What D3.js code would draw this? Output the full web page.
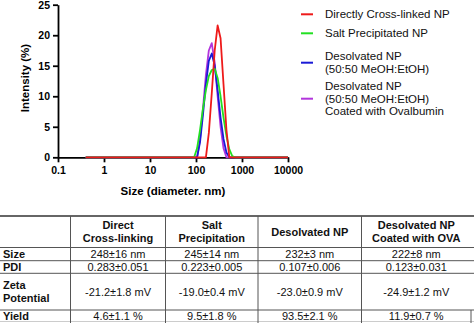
<!DOCTYPE html>
<html>
<head>
<meta charset="utf-8">
<script src="https://cdn.jsdelivr.net/npm/d3@7"></script>
<style>
  body { margin: 0; background: #fff; }
  svg { display: block; font-family: "Liberation Sans", Arial, sans-serif; }
  .axis text { font-weight: bold; font-size: 10.5px; fill: #000; }
  .axis path, .axis line { stroke: #000; stroke-width: 1.8px; }
</style>
</head>
<body>
<svg id="chart" width="474" height="323"></svg>
<script>
// size bins (nm) of the DLS distribution, zero outside the peak region
const sizes = [0.4, 91.28, 105.7, 122.4, 141.8, 164.2, 190.1, 220.2, 255.0, 295.3, 342.0, 396.1, 458.7, 531.2, 615.1, 712.4, 10000];
const crossLinked = [0, 0, 0, 0, 0, 0, 4.0, 10.5, 17.5, 21.6, 19.5, 12.0, 4.5, 0, 0, 0, 0];
const saltPrecip = [0, 0, 1.5, 4.5, 8.0, 11.0, 13.3, 14.3, 14.5, 13.0, 10.0, 6.5, 3.5, 1.3, 0.2, 0, 0];
const desolvated = [0, 0, 0, 2.5, 7.0, 12.0, 15.8, 17.0, 15.0, 11.0, 6.5, 3.0, 0.8, 0, 0, 0, 0];
const desolvatedOva = [0, 0, 0, 3.0, 8.0, 13.5, 17.5, 18.7, 15.5, 10.0, 5.0, 1.5, 0, 0, 0, 0, 0];

const xTicks = [0.1, 1, 10, 100, 1000, 10000];
const xTickLabels = ['0.1', '1', '10', '100', '1000', '10000'];
const yTicks = [0, 5, 10, 15, 20, 25];

const seriesNames = ['Directly Cross-linked NP', 'Salt Precipitated NP', 'Desolvated NP|(50:50 MeOH:EtOH)', 'Desolvated NP|(50:50 MeOH:EtOH)|Coated with Ovalbumin'];
const seriesColors = ['#ee1a1a', '#22e022', '#1a1ad6', '#b235dc'];
const seriesValues = [crossLinked, saltPrecip, desolvated, desolvatedOva];

const tableHeaders = ['', 'Direct|Cross-linking', 'Salt|Precipitation', 'Desolvated NP', 'Desolvated NP|Coated with OVA'];
const rowLabels = ['Size', 'PDI', 'Zeta|Potential', 'Yield'];
const sizeRow = ['248±16 nm', '245±14 nm', '232±3 nm', '222±8 nm'];
const pdiRow = ['0.283±0.051', '0.223±0.005', '0.107±0.006', '0.123±0.031'];
const zetaRow = ['-21.2±1.8 mV', '-19.0±0.4 mV', '-23.0±0.9 mV', '-24.9±1.2 mV'];
const yieldRow = ['4.6±1.1 %', '9.5±1.8 %', '93.5±2.1 %', '11.9±0.7 %'];

const svg = d3.select('#chart');
const plot = { left: 58, right: 288, top: 4.7, bottom: 157.3 };

const x = d3.scaleLog().domain([0.1, 10000]).range([plot.left, plot.right]);
const y = d3.scaleLinear().domain([0, 25]).range([plot.bottom, plot.top]);

// axes
svg.append('g')
    .attr('class', 'axis')
    .attr('transform', `translate(0, ${plot.bottom})`)
    .call(d3.axisBottom(x).tickValues(xTicks).tickFormat((d, i) => xTickLabels[i]).tickSize(5).tickSizeOuter(0).tickPadding(4));

svg.append('g')
    .attr('class', 'axis')
    .attr('transform', `translate(${plot.left}, 0)`)
    .call(d3.axisLeft(y).tickValues(yTicks).tickSize(5).tickSizeOuter(0).tickPadding(3));

svg.append('text')
    .attr('x', 173).attr('y', 195)
    .attr('text-anchor', 'middle')
    .attr('font-weight', 'bold').attr('font-size', 11.5)
    .text('Size (diameter. nm)');

svg.append('text')
    .attr('transform', 'translate(29, 78) rotate(-90)')
    .attr('text-anchor', 'middle')
    .attr('font-weight', 'bold').attr('font-size', 11.5)
    .text('Intensity (%)');

// lines, red drawn last so it sits on top
const line = d3.line()
    .x((d, i) => x(sizes[i]))
    .y(d => y(d));

[3, 2, 1, 0].forEach(k => {
    svg.append('path')
        .datum(seriesValues[k])
        .attr('fill', 'none')
        .attr('stroke', seriesColors[k])
        .attr('stroke-width', 1.8)
        .attr('stroke-linejoin', 'round')
        .attr('d', line);
});

// legend
const legendY = [14.3, 33.3, 62.7, 98.7];
seriesNames.forEach((name, k) => {
    const lines = name.split('|');
    svg.append('line')
        .attr('x1', 301).attr('x2', 313)
        .attr('y1', legendY[k]).attr('y2', legendY[k])
        .attr('stroke', seriesColors[k]).attr('stroke-width', 2);
    lines.forEach((t, j) => {
        svg.append('text')
            .attr('x', 325)
            .attr('y', legendY[k] + (j - (lines.length - 1) / 2) * 12.7 + 4)
            .attr('font-size', 11.5)
            .attr('fill', '#111')
            .text(t);
    });
});

// table
const colEdges = [0, 70.5, 165.5, 258, 361.5, 471];
const rowEdges = [216, 247.5, 260.7, 273.3, 310, 321.5];
const rows = [sizeRow, pdiRow, zetaRow, yieldRow];
const table = svg.append('g');

rowEdges.forEach((ry, i) => {
    table.append('line')
        .attr('x1', 0).attr('x2', 474)
        .attr('y1', ry).attr('y2', ry)
        .attr('stroke', i === 0 ? '#333' : (i === 5 ? '#ccc' : '#555'))
        .attr('stroke-width', i === 0 ? 1.4 : 1);
});
colEdges.slice(1, 5).forEach(cx => {
    table.append('line')
        .attr('x1', cx).attr('x2', cx)
        .attr('y1', rowEdges[0]).attr('y2', 323)
        .attr('stroke', '#555').attr('stroke-width', 1);
});
table.append('line')
    .attr('x1', colEdges[5]).attr('x2', colEdges[5])
    .attr('y1', rowEdges[4]).attr('y2', 323)
    .attr('stroke', '#555').attr('stroke-width', 1);

function cellText(txt, cx, cy, anchor, bold) {
    const parts = txt.split('|');
    parts.forEach((t, j) => {
        table.append('text')
            .attr('x', cx)
            .attr('y', cy + (j - (parts.length - 1) / 2) * 12.7 + 4)
            .attr('text-anchor', anchor)
            .attr('font-size', 11)
            .attr('font-weight', bold ? 'bold' : 'normal')
            .attr('fill', '#111')
            .text(t);
    });
}

tableHeaders.forEach((h, c) => {
    if (!h) return;
    cellText(h, (colEdges[c] + colEdges[c + 1]) / 2, (rowEdges[0] + rowEdges[1]) / 2, 'middle', true);
});
rowLabels.forEach((lab, r) => {
    const cy = (rowEdges[r + 1] + rowEdges[r + 2]) / 2;
    cellText(lab, 3, cy, 'start', true);
    rows[r].forEach((v, c) => {
        cellText(v, (colEdges[c + 1] + colEdges[c + 2]) / 2, cy, 'middle', false);
    });
});
</script>
</body>
</html>
